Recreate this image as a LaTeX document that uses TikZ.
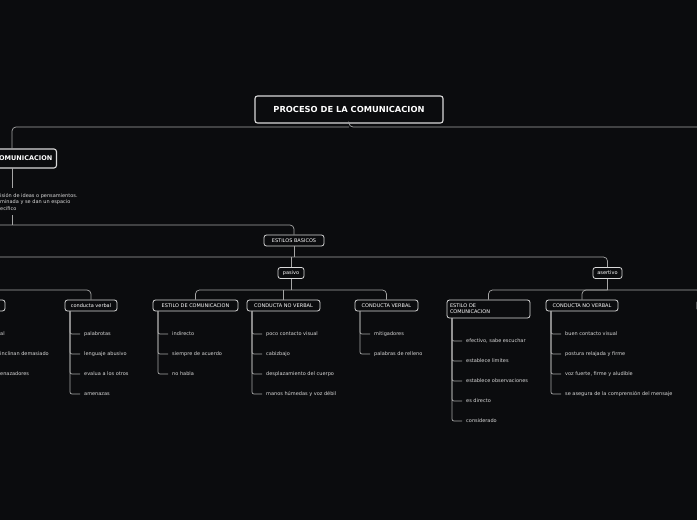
\documentclass[tikz,border=0pt]{standalone}
\usepackage{fontspec}
\setmainfont{DejaVu Sans}
\definecolor{bg}{HTML}{0B0C0E}
\begin{document}
\begin{tikzpicture}[x=1pt,y=-1pt,
  box/.style={draw=white!85!black,rounded corners=2.5pt,line width=0.8pt,font=\fontsize{5}{6}\selectfont,text=white,inner sep=0pt,minimum height=11pt,fill=bg},
  item/.style={font=\fontsize{5}{6}\selectfont,text=white!85!black,anchor=west,inner sep=0pt},
  ln/.style={draw=white!65!black,line width=0.7pt,rounded corners=4pt},
  tk/.style={draw=white!65!black,line width=0.7pt,rounded corners=2pt}]
\fill[bg] (0,0) rectangle (697,520);
\useasboundingbox (0,0) rectangle (697,520);
\begin{scope}
\clip (0,0) rectangle (697,520);
% root
\node[box,line width=1.1pt,minimum width=188pt,minimum height=27pt,font=\bfseries\fontsize{8.3}{9}\selectfont] (root) at (349,109.5) {PROCESO DE LA COMUNICACION};
\node[box,line width=1.1pt,minimum height=19pt,anchor=east,text width=62pt,align=right,font=\bfseries\fontsize{6.5}{8}\selectfont] (com) at (57,158.5) {COMUNICACION\hspace*{6pt}};
\coordinate (rr) at (700,127);
\draw[ln] (root.south) -- (349,127) -- (rr);
\draw[ln] (349,127) -| (com.north -| 12,0);
\node[item,align=left,font=\fontsize{5}{6.2}\selectfont] (def) at (0,202) {isión de ideas o pensamientos.\\minada y se dan un espacio\\ecífico};
\draw[ln] (12,168) -- (12,188);
\draw[ln] (12,215) -- (12,225);
% estilos basicos
\node[box,minimum width=60pt] (eb) at (294,240.5) {ESTILOS BASICOS};
\coordinate (l1) at (-5,225);
\draw[ln] (l1) -| (eb.north);
\coordinate (l2) at (-5,257);
\node[box,minimum width=26pt] (pas) at (291,273) {pasivo};
\node[box,minimum width=29pt] (ase) at (607.5,273) {asertivo};
\draw[ln] (eb.south) -- (294,257);
\draw[ln] (l2) -- (294,257) -| (ase.north);
\draw[ln] (291,257) -- (pas.north);
% left subtree (cut)
\node[box,minimum width=52pt] (cv0) at (91,305.5) {conducta verbal};
\node[box,minimum width=30pt] (cx0) at (-10,305.5) {};
\coordinate (l3) at (-5,290);
\draw[ln] (l3) -| (cv0.north);
\draw[ln] (-10,290) -- (cx0.north);
\node[item] (g1) at (0,334) {al};
\node[item] (g2) at (0,354) {inclinan demasiado};
\node[item] (g3) at (0,374) {enazadores};
\foreach \t/\y/\n in {palabrotas/334/a1,lenguaje abusivo/354/a2,evalua a los otros/374/a3,amenazas/394/a4}{
  \node[item] (\n) at (84,\y) {\t};
  \draw[tk] (70,311) |- ([xshift=-4pt]\n.west);}
% pasivo subtree
\node[box,minimum width=85pt] (pe) at (195.5,305.5) {ESTILO DE COMUNICACION};
\node[box,minimum width=73pt] (pn) at (283.5,305.5) {CONDUCTA NO VERBAL};
\node[box,minimum width=63pt] (pv) at (386.5,305.5) {CONDUCTA VERBAL};
\draw[ln] (pas.south) -- (291,290);
\draw[ln] (pe.north) |- (291,290) -| (pv.north);
\draw[ln] (283.5,290) -- (pn.north);
\foreach \t/\y/\n in {indirecto/334/b1,siempre de acuerdo/354/b2,no habla/374/b3}{
  \node[item] (\n) at (172,\y) {\t};
  \draw[tk] (158,311) |- ([xshift=-4pt]\n.west);}
\foreach \t/\y/\n in {poco contacto visual/334/c1,cabizbajo/354/c2,desplazamiento del cuerpo/374/c3,manos húmedas y voz débil/394/c4}{
  \node[item] (\n) at (266,\y) {\t};
  \draw[tk] (252,311) |- ([xshift=-4pt]\n.west);}
\foreach \t/\y/\n in {mitigadores/334/d1,palabras de relleno/354/d2}{
  \node[item] (\n) at (374,\y) {\t};
  \draw[tk] (360,311) |- ([xshift=-4pt]\n.west);}
% asertivo subtree
\node[box,minimum width=83pt,minimum height=18pt,text width=77pt,align=left] (ae) at (488.5,309) {ESTILO DE\\COMUNICACION};
\node[box,minimum width=72pt] (an) at (582,305.5) {CONDUCTA NO VERBAL};
\node[box,minimum width=30pt] (ax) at (712,305.5) {};
\coordinate (rr2) at (700,290);
\draw[ln] (ase.south) -- (607.5,290);
\draw[ln] (ae.north) |- (rr2);
\draw[ln] (607.5,290) -| (an.north);
\draw[ln] (697,290) -- (ax.north);
\foreach \t/\y/\n in {{efectivo, sabe escuchar}/341/e1,establece limites/361/e2,establece observaciones/381/e3,es directo/401/e4,considerado/421/e5}{
  \node[item] (\n) at (466,\y) {\t};
  \draw[tk] (452,318) |- ([xshift=-4pt]\n.west);}
\foreach \t/\y/\n in {buen contacto visual/334/f1,postura relajada y firme/354/f2,{voz fuerte, firme y aludible}/374/f3,se asegura de la comprensión del mensaje/394/f4}{
  \node[item] (\n) at (565,\y) {\t};
  \draw[tk] (551,311) |- ([xshift=-4pt]\n.west);}
\end{scope}
\end{tikzpicture}
\end{document}
